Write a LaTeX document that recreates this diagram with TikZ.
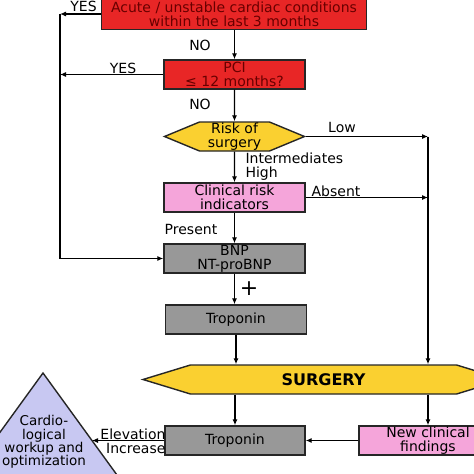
\documentclass[tikz,border=0pt]{standalone}
\usepackage{fontspec}
\setmainfont{DejaVu Sans}
\usetikzlibrary{arrows.meta,shapes.symbols}

\definecolor{boxred}{RGB}{232,38,38}
\definecolor{boxtext}{RGB}{105,0,0}
\definecolor{boxgray}{RGB}{152,152,152}
\definecolor{boxpink}{RGB}{245,165,218}
\definecolor{boxyellow}{RGB}{250,208,48}
\definecolor{boxlav}{RGB}{200,200,242}

\begin{document}
\begin{tikzpicture}[x=1pt,y=-1pt,>={Latex[length=6pt,width=5pt]},
			line width=1.1pt,
			font=\fontsize{14}{14}\selectfont,
			box/.style={rectangle,draw=black!85,line width=1.4pt,inner sep=0pt,minimum width=141pt,minimum height=29pt,align=center},
			red box/.style={box,fill=boxred,text=boxtext},
			gray box/.style={box,fill=boxgray},
			pink box/.style={box,fill=boxpink},
			decision/.style={signal,signal to=west and east,draw=black!85,line width=1.4pt,fill=boxyellow,inner sep=0pt,minimum height=29pt,align=center},
			note/.style={inner sep=0pt}
			]

			\useasboundingbox (0,0) rectangle (474,474);
			\clip (0,0) rectangle (474,474);

			\coordinate (lft) at (60,0);
			\coordinate (rgt) at (428,0);

			% main column
			\node[red box,minimum width=265pt,minimum height=31pt] (acute) at (234,14) {Acute / unstable cardiac conditions\\within the last 3 months};
			\node[red box] (pci) at (234.5,74.5) {PCI\\≤ 12 months?};
			\node[decision,minimum width=140pt,signal pointer angle=45] (risk) at (234.5,136.5) {Risk of\\surgery};
			\node[pink box] (clinical) at (234.5,197.5) {Clinical risk\\indicators};
			\node[gray box] (bnp) at (234.5,258.5) {BNP\\NT-proBNP};
			\node[gray box] (trop1) at (236,319.5) {Troponin};
			\node[decision,minimum width=361pt,signal pointer angle=34,font=\fontsize{16}{16}\selectfont\bfseries] (surgery) at (323.5,379.5) {SURGERY};
			\node[gray box,minimum width=140pt] (trop2) at (235,440.5) {Troponin};
			\node[pink box,minimum width=138pt] (findings) at (428,440.5) {New clinical\\findings};

			% triangle
			\filldraw[fill=boxlav,draw=black!85,line width=1.4pt] (43,373) -- (117,475) -- (-31,475) -- cycle;
			\node[note,align=center,font=\fontsize{13.5}{13.3}\selectfont] (workup) at (44,442) {Cardio-\\logical\\workup and\\optimization};
			\coordinate (tri) at (92,440.5);

			% connectors
			\draw[->] (acute.south -| pci.north) -- (pci.north);
			\draw[->] (pci) -- (risk);
			\draw[->] (risk) -- (clinical);
			\draw[->] (clinical) -- (bnp);
			\draw[->] (bnp.south) -- (bnp.south |- trop1.north);
			\draw[->] (trop1.south) -- (trop1.south |- surgery.north);
			\draw[->] (surgery.south -| trop2.north) -- (trop2.north);
			\draw[->] (acute.west) -- (acute.west -| lft);
			\draw[->] (pci.west) -- (pci.west -| lft);
			\draw[->] (acute.west -| lft) -- (bnp.west -| lft) -- (bnp.west);
			\draw[->] (risk.east) -- (risk.east -| rgt);
			\draw[->] (clinical.east) -- (clinical.east -| rgt);
			\draw[->] (risk.east -| rgt) -- (surgery.north -| rgt);
			\draw[->] (surgery.south -| findings.north) -- (findings.north);
			\draw[->] (findings) -- (trop2);
			\draw[->] (trop2.west) -- (tri);

			% labels
			\node[note] at (83.5,6) {YES};
			\node[note] at (200,45) {NO};
			\node[note] at (123,68) {YES};
			\node[note] at (200,104) {NO};
			\node[note] at (342,127) {Low};
			\node[note,anchor=west,align=left] at (245,167) {Intermediates\\High};
			\node[note] at (336,191) {Absent};
			\node[note] at (191,229) {Present};
			\node[note,font=\fontsize{22}{22}\selectfont] at (249,289) {+};
			\node[note,anchor=east,align=right] at (166,441) {Elevation\\Increase};
		\end{tikzpicture}
\end{document}
